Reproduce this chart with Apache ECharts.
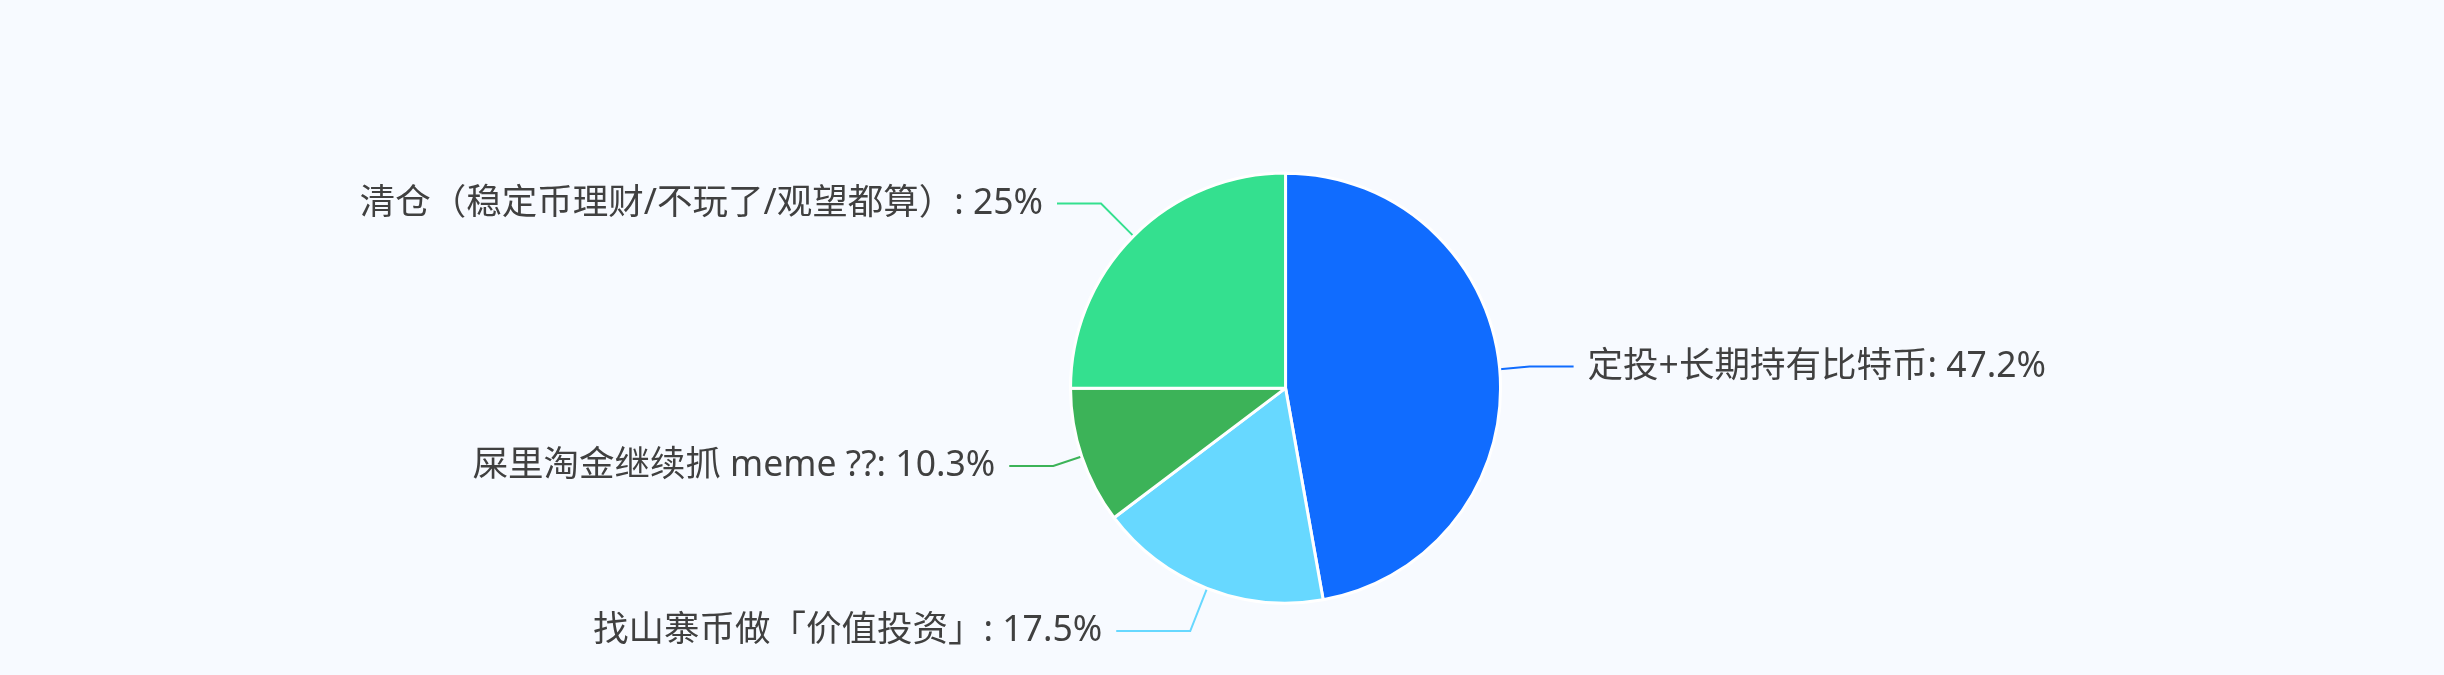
<!DOCTYPE html>
<html>
<head>
<meta charset="utf-8">
<style>
  html, body { margin: 0; padding: 0; background: #f7faff; }
  #main { width: 2444px; height: 675px; }
</style>
<script src="https://cdn.jsdelivr.net/npm/echarts@6/dist/echarts.min.js"></script>
</head>
<body>
<div id="main"></div>
<script>
var names = [
  "定投+长期持有比特币",
  "找山寨币做「价值投资」",
  "屎里淘金继续抓 meme ??",
  "清仓（稳定币理财/不玩了/观望都算）"
];
var values = [47.2, 17.5, 10.3, 25];
var colors = ["#106cff", "#67d8ff", "#3cb358", "#34e08f"];
// label line segment lengths per slice (the original spreads the left labels apart)
var lineLen1 = [30, 46, 30, 46];
var lineLen2 = [44, 74, 44, 44];

var myChart = echarts.init(document.getElementById("main"));

var data = names.map(function (n, i) {
  return {
    name: n,
    value: values[i],
    itemStyle: { color: colors[i] },
    labelLine: { length: lineLen1[i], length2: lineLen2[i] }
  };
});

var option = {
  backgroundColor: "#f7faff",
  animation: false,
  series: [
    {
      type: "pie",
      center: ["52.6%", "57.5%"],
      radius: 215,
      startAngle: 90,
      clockwise: true,
      data: data,
      itemStyle: {
        borderColor: "#ffffff",
        borderWidth: 3
      },
      label: {
        show: true,
        formatter: "{b}: {d}%",
        color: "#404040",
        fontSize: 35.5,
        fontFamily: "Noto Sans, Noto Sans CJK SC, sans-serif",
        distanceToLabelLine: 14
      },
      labelLine: {
        show: true,
        lineStyle: { width: 2 }
      }
    }
  ]
};

myChart.setOption(option);
</script>
</body>
</html>
